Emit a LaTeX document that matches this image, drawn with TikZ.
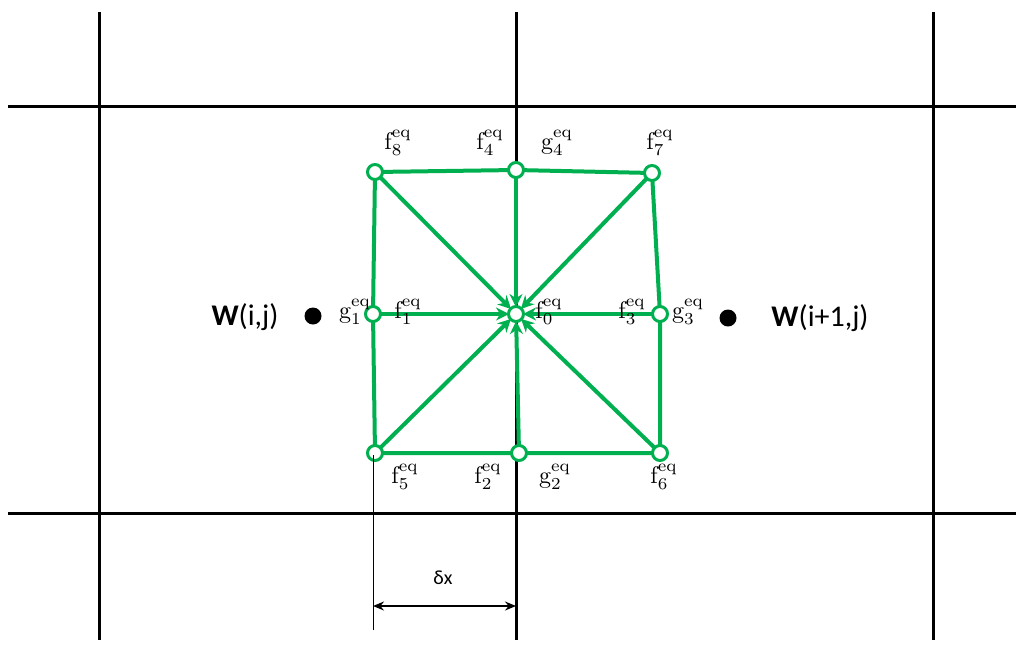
\documentclass[tikz,border=0pt]{standalone}
\usepackage{fontspec}
\newfontfamily\carfont{Carlito}
\usetikzlibrary{arrows.meta}
\begin{document}
\begin{tikzpicture}[x=1pt,y=-1pt,
 grid/.style={line width=3pt,black},
 gl/.style={line width=4pt,draw={rgb,255:red,0;green,176;blue,80}},
 ga/.style={gl,-{Stealth[length=13pt,width=13pt]},shorten >=7pt},
 pt/.style={circle,draw={rgb,255:red,0;green,176;blue,80},line width=3pt,fill=white,minimum size=15pt,inner sep=0pt},
 lab/.style={scale=2.4,inner sep=0pt},
 wl/.style={font=\carfont\fontsize{30}{30}\selectfont,inner sep=0pt}]
\useasboundingbox (0,0) rectangle (1024,651);
\draw[grid] (99,12) -- (99,640); \draw[grid] (516,12) -- (516,640); \draw[grid] (933,12) -- (933,640);
\draw[grid] (8,106) -- (1016,106); \draw[grid] (8,513) -- (1016,513);
\coordinate (c0) at (516,314);
\path (375,172) coordinate (c8) (516,170) coordinate (c4) (652,173) coordinate (c7)
 (373,314) coordinate (c1) (660,314) coordinate (c3)
 (375,453) coordinate (c5) (519,453) coordinate (c2) (660,453) coordinate (c6);
\draw[gl] (c8) -- (c4) -- (c7) -- (c3) -- (c6) -- (c2) -- (c5) -- (c1) -- cycle;
\foreach \a in {c1,c2,c3,c4,c5,c6,c7,c8} \draw[ga] (\a) -- (c0);
\foreach \a in {c0,c1,c2,c3,c4,c5,c6,c7,c8} \node[pt] (n\a) at (\a) {};
\node[lab] (l8) at (398,143) {$\mathrm{f}_8^{\mathrm{eq}}$};
\node[lab] (l4) at (490,143) {$\mathrm{f}_4^{\mathrm{eq}}$};
\node[lab] (m4) at (557,143) {$\mathrm{g}_4^{\mathrm{eq}}$};
\node[lab] (l7) at (660,143) {$\mathrm{f}_7^{\mathrm{eq}}$};
\node[lab] (m1) at (355,312) {$\mathrm{g}_1^{\mathrm{eq}}$};
\node[lab] (l1) at (408,312) {$\mathrm{f}_1^{\mathrm{eq}}$};
\node[lab] (l0) at (549,312) {$\mathrm{f}_0^{\mathrm{eq}}$};
\node[lab] (l3) at (632,312) {$\mathrm{f}_3^{\mathrm{eq}}$};
\node[lab] (m3) at (688,312) {$\mathrm{g}_3^{\mathrm{eq}}$};
\node[lab] (l5) at (405,477) {$\mathrm{f}_5^{\mathrm{eq}}$};
\node[lab] (l2) at (488,477) {$\mathrm{f}_2^{\mathrm{eq}}$};
\node[lab] (m2) at (555,477) {$\mathrm{g}_2^{\mathrm{eq}}$};
\node[lab] (l6) at (664,477) {$\mathrm{f}_6^{\mathrm{eq}}$};
\node[circle,fill=black,minimum size=17pt,inner sep=0pt] (d1) at (313,316) {};
\node[circle,fill=black,minimum size=17pt,inner sep=0pt] (d2) at (728,318) {};
\node[wl] (w1) at (245,317) {\textbf{W}(i,j)};
\node[wl] (w2) at (820,318) {\textbf{W}(i+1,j)};
\coordinate (v0) at (373,455); \coordinate (v1) at (373,630);
\draw[line width=0.8pt] (v0) -- (v1);
\coordinate (a0) at (373,606); \coordinate (a1) at (516,606);
\draw[line width=1.5pt,{Stealth[length=11pt,width=9pt]}-{Stealth[length=11pt,width=9pt]}] (a0) -- (a1);
\node[font=\carfont\fontsize{20}{20}\selectfont] (dx) at (443,578) {δx};
\end{tikzpicture}
\end{document}
